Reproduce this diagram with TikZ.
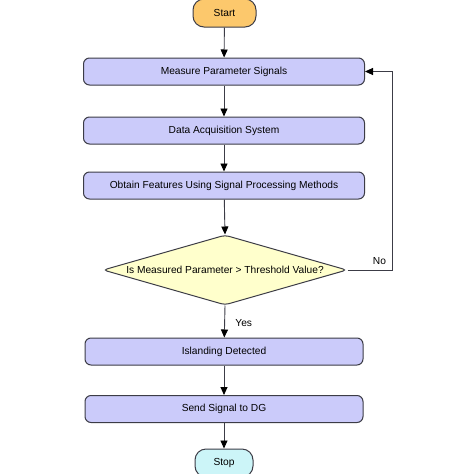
\documentclass[tikz,border=0pt]{standalone}
\usepackage{fontspec}
\setmainfont{Liberation Sans}
\usetikzlibrary{shapes.geometric,arrows.meta}
\definecolor{startfill}{HTML}{FCC86C}
\definecolor{stopfill}{HTML}{CCF5F8}
\definecolor{boxfill}{HTML}{CBCBFA}
\definecolor{decfill}{HTML}{FFFFCC}
\definecolor{edge}{HTML}{3C3C46}
\begin{document}
\begin{tikzpicture}[x=1pt,y=-1pt,
  font=\fontsize{10.2}{12}\selectfont,
  base/.style={draw=edge, line width=1pt, inner sep=0pt, text=black},
  procbox/.style={base, rectangle, rounded corners=6pt, fill=boxfill, minimum width=281pt, minimum height=27pt},
  termbox/.style={base, rectangle, rounded corners=11pt, minimum height=28pt},
  decbox/.style={base, diamond, fill=decfill, minimum width=244pt, minimum height=70pt, shape aspect=3.49, rounded corners=4pt},
  conn/.style={draw=edge, line width=0.9pt, -{Triangle[length=8pt,width=7pt,fill=black,color=black]}},
  lbl/.style={text=black}
]
\useasboundingbox (0,0) rectangle (474,474);
\node[termbox, fill=startfill, minimum width=63pt] (start) at (224.5,13) {Start};
\node[procbox] (measure) at (224,71.5) {Measure Parameter Signals};
\node[procbox] (daq) at (224,130.5) {Data Acquisition System};
\node[procbox] (feat) at (224,185.5) {Obtain Features Using Signal Processing Methods};
\node[decbox] (dec) at (225,270) {Is Measured Parameter > Threshold Value?};
\node[procbox, minimum width=278pt] (island) at (224,351.5) {Islanding Detected};
\node[procbox, minimum width=278pt] (send) at (224,409) {Send Signal to DG};
\node[termbox, fill=stopfill, minimum width=58pt] (stop) at (224,463) {Stop};
\coordinate (cornerB) at (392,270);
\coordinate (cornerT) at (392,71.5);

\draw[conn] (start) -- (measure);
\draw[conn] (measure) -- (daq);
\draw[conn] (daq) -- (feat);
\draw[conn] (feat) -- (dec.north);
\draw[conn] (dec.south) -- node[lbl, right=7pt, pos=0.55] {Yes} (island);
\draw[conn] (island) -- (send);
\draw[conn] (send) -- (stop);
\draw[conn] (dec.east) -- (cornerB) -- (cornerT) -- (measure.east);
\node[lbl] (nolbl) at (379.5,261.5) {No};
\end{tikzpicture}
\end{document}
